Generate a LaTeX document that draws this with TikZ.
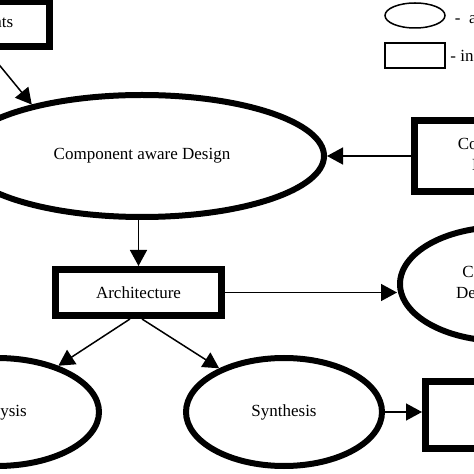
\documentclass[tikz,border=0pt]{standalone}
\usepackage{fontspec}
\setmainfont{Liberation Serif}
\usetikzlibrary{arrows.meta,shapes.geometric,positioning}

\begin{document}
\begin{tikzpicture}[x=1pt, y=1pt,
    every node/.style={font=\fontsize{17}{20.5}\selectfont, inner sep=0pt, align=center},
    activity/.style={ellipse, draw, line width=6pt},
    info/.style={rectangle, draw, line width=7pt, minimum width=166pt},
    lgd/.style={draw, line width=1.5pt, minimum width=60pt, minimum height=25pt},
    arr/.style={-{Triangle[length=16pt,width=17pt]}, line width=1.5pt}]
      \clip (0,0) rectangle (474,474);

      \node[activity, minimum width=364pt, minimum height=122pt] (cad) at (142,318) {Component aware Design};
      \node[info, minimum height=45pt] (req) at (-34,450) {Requirements};
      \node[info, minimum height=71pt] (lib) [right=84pt of cad] {Component\\Library};
      \node[info, minimum height=46pt] (arch) [below=46pt of cad, xshift=-3.5pt] {Architecture};
      \node[activity, minimum width=204pt, minimum height=114pt] (dev) [right=172pt of arch, yshift=8.5pt] {Component\\Development};
      \node[activity, minimum width=204pt, minimum height=108pt] (ana) at (-3,62) {Analysis};
      \node[activity, minimum width=196pt, minimum height=108pt] (syn) [right=81pt of ana] {Synthesis};
      \node[info, minimum height=67pt] (out) [right=37pt of syn, yshift=-3pt] {};

      \node[lgd, ellipse] (lgact) at (415,458.5) {};
      \node[lgd] (lginfo) [below=13.5pt of lgact] {};
      \node (lgacttxt) [right=9pt of lgact, yshift=-4.5pt] {- \ activity};
      \node (lginfotxt) [right=4.5pt of lginfo] {- information};

      \draw[arr] ([xshift=21pt]req.south) -- (cad.155);
      \draw[arr] (lib) -- (cad);
      \draw[arr] (cad.south -| arch) -- (arch);
      \draw[arr] (arch) -- (arch -| dev.west);
      \draw[arr] ([xshift=-8.5pt]arch.south) -- (ana.37);
      \draw[arr] ([xshift=3.5pt]arch.south) -- (syn.146);
      \draw[arr] (syn) -- (syn -| out.west);
    \end{tikzpicture}
\end{document}
